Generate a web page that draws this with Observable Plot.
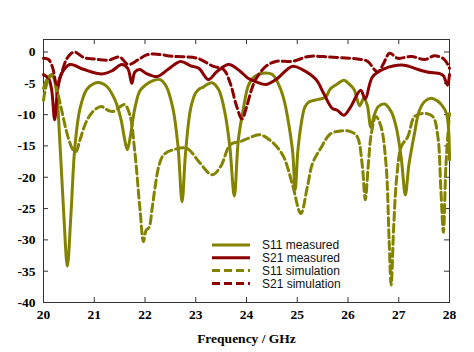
<!DOCTYPE html>
<html><head><meta charset="utf-8">
<script src="https://cdn.jsdelivr.net/npm/d3@7"></script>
<script src="https://cdn.jsdelivr.net/npm/@observablehq/plot@0.6"></script>
<style>body{margin:0;background:#fff}#chart{width:474px;height:352px}</style>
</head><body><div id="chart"></div>
<script>
const xTicks = [20, 21, 22, 23, 24, 25, 26, 27, 28];
const yTicks = [0, -5, -10, -15, -20, -25, -30, -35, -40];
const seriesNames = ["S11 measured", "S21 measured", "S11 simulation", "S21 simulation"];

const s11Measured = [[20,-5.8],[20.08,-4.2],[20.17,-3.6],[20.25,-6],[20.32,-14],[20.4,-26],[20.47,-34.2],[20.54,-26],[20.62,-15],[20.72,-9],[20.85,-6],[21.0,-5.0],[21.12,-4.9],[21.25,-5.5],[21.4,-7.5],[21.52,-10.5],[21.6,-14],[21.65,-15.6],[21.7,-14],[21.8,-9],[21.9,-6.2],[22.02,-5.2],[22.15,-4.6],[22.3,-4.4],[22.42,-5.5],[22.55,-9],[22.65,-15],[22.73,-23.9],[22.8,-16],[22.9,-9],[23.0,-6.5],[23.09,-5.8],[23.15,-5.6],[23.2,-5.3],[23.32,-4.9],[23.45,-6],[23.57,-9.5],[23.67,-15],[23.76,-23],[23.84,-14],[23.95,-8.5],[24.03,-5.5],[24.12,-4.2],[24.31,-3.4],[24.51,-3.6],[24.65,-5.5],[24.75,-8],[24.84,-11.9],[24.91,-16],[24.96,-22],[25.01,-16],[25.07,-11.9],[25.15,-8.8],[25.23,-8.0],[25.4,-7.6],[25.56,-7.2],[25.65,-5.9],[25.79,-5.1],[25.92,-4.5],[26.02,-5.1],[26.12,-6],[26.23,-8.6],[26.31,-7.4],[26.38,-8.5],[26.45,-12],[26.52,-10],[26.6,-8.7],[26.72,-8.3],[26.85,-9.5],[26.95,-12],[27.05,-17],[27.13,-22.8],[27.2,-18],[27.31,-13],[27.4,-9.5],[27.51,-7.9],[27.64,-7.4],[27.76,-7.8],[27.84,-8.4],[27.94,-9.8],[28,-17.2]];

const s21Measured = [[20,-3.6],[20.1,-4.2],[20.16,-6],[20.22,-10.8],[20.28,-6],[20.36,-3.4],[20.52,-2.0],[20.8,-2.8],[21.15,-3.5],[21.35,-3],[21.54,-2.0],[21.66,-2.6],[21.74,-5.0],[21.8,-3.2],[21.9,-2.8],[22.02,-3.4],[22.24,-3.9],[22.45,-2.8],[22.7,-1.5],[22.9,-2.2],[23.06,-2.6],[23.25,-4.4],[23.42,-3.1],[23.65,-2.0],[23.88,-3.1],[24.03,-4.2],[24.2,-4.8],[24.38,-5.2],[24.58,-4.4],[24.9,-2.3],[25.1,-2.8],[25.37,-4.4],[25.52,-6.6],[25.69,-9.0],[25.79,-9.3],[25.92,-10.1],[26.05,-8.8],[26.25,-6.1],[26.34,-7.5],[26.48,-4.0],[26.71,-2.7],[27.1,-2.1],[27.38,-2.8],[27.56,-3.2],[27.82,-3.5],[27.88,-3.8],[27.96,-5.3],[28,-3.6]];

const s11Simulation = [[20,-7.7],[20.05,-5.5],[20.12,-4],[20.18,-3.8],[20.25,-5.5],[20.35,-9],[20.48,-13.5],[20.58,-15.6],[20.64,-15.9],[20.72,-14],[20.85,-11],[21.0,-9.3],[21.14,-8.7],[21.27,-9.3],[21.37,-9.5],[21.5,-8.8],[21.6,-8.4],[21.7,-10],[21.8,-16],[21.9,-25],[21.97,-30.3],[22.02,-28.5],[22.08,-28],[22.14,-25],[22.2,-21.5],[22.28,-18],[22.37,-16.4],[22.56,-15.6],[22.83,-15.4],[23.06,-17.5],[23.32,-19.6],[23.49,-18.3],[23.68,-14.8],[23.88,-14.3],[24.03,-13.8],[24.25,-13.2],[24.45,-14],[24.71,-16.4],[24.9,-21],[25.07,-25.8],[25.2,-21.5],[25.3,-17.8],[25.46,-15.4],[25.65,-13.1],[25.85,-12.6],[26.05,-12.7],[26.18,-13.5],[26.28,-18],[26.34,-23.6],[26.4,-18],[26.46,-13],[26.55,-10.3],[26.65,-11.9],[26.75,-18],[26.81,-30],[26.85,-37.2],[26.9,-28],[26.96,-20],[27.05,-15.1],[27.18,-13.5],[27.31,-10.3],[27.48,-9.8],[27.67,-10.3],[27.77,-13.5],[27.83,-22],[27.88,-28.8],[27.93,-18],[28,-9.8]];

const s21Simulation = [[20,-1.0],[20.1,-1.2],[20.18,-2.5],[20.26,-5.2],[20.35,-3.5],[20.45,-1.2],[20.55,-0.2],[20.62,0.0],[20.8,-0.9],[21.0,-1.1],[21.28,-1.3],[21.5,-0.8],[21.67,-2.0],[21.87,-1.2],[22.02,-0.5],[22.17,-0.3],[22.56,-0.7],[23.03,-1.0],[23.35,-2.3],[23.55,-2.8],[23.68,-5],[23.8,-8.5],[23.91,-10.7],[24.0,-8.8],[24.1,-6],[24.18,-4.4],[24.38,-2.3],[24.58,-1.5],[24.9,-1.5],[25.23,-0.7],[25.63,-0.8],[26.04,-1.0],[26.19,-1.1],[26.39,-1.5],[26.52,-2.8],[26.59,-3.2],[26.69,-2.0],[26.82,-0.2],[26.98,-1.0],[27.25,-0.7],[27.51,-1.2],[27.71,-0.6],[27.9,-1.2],[28,-2.6]];

const OLIVE = "#838300", DARKRED = "#8b0000";
const series = [
  {name: seriesNames[0], data: s11Measured, color: OLIVE, dash: null},
  {name: seriesNames[1], data: s21Measured, color: DARKRED, dash: null},
  {name: seriesNames[2], data: s11Simulation, color: OLIVE, dash: "8,4"},
  {name: seriesNames[3], data: s21Simulation, color: DARKRED, dash: "8,4"}
];

const W = 474, H = 352, ML = 43, MR = 25, MT = 39, MB = 50;
const frameH = H - MT - MB, frameW = W - ML - MR, TICK = 5;
const SERIF = "'Liberation Serif', 'Times New Roman', serif";

function legendMark() {
  return () => {
    const g = d3.create("svg:g").attr("text-anchor", "start");
    series.forEach((s, i) => {
      const y = 245 + i * 12.8;
      g.append("line").attr("x1", 212).attr("x2", 250).attr("y1", y).attr("y2", y)
        .attr("stroke", s.color).attr("stroke-width", 3)
        .attr("stroke-dasharray", s.dash);
      g.append("text").attr("x", 262).attr("y", y).attr("dy", "0.36em")
        .attr("text-anchor", "start")
        .attr("font-family", "Arial, 'Liberation Sans', sans-serif")
        .attr("font-size", 12).attr("font-weight", "normal").attr("fill", "#111")
        .text(s.name);
    });
    return g.node();
  };
}

const axisText = {fontFamily: SERIF, fontSize: 13.5, fontWeight: "bold", fill: "#000"};
const marks = [
  Plot.frame({stroke: "#333", strokeWidth: 1}),
  Plot.tickX(xTicks, {x: d => d, insetTop: frameH - TICK, stroke: "#333"}),
  Plot.tickX(xTicks, {x: d => d, insetBottom: frameH - TICK, stroke: "#333"}),
  Plot.tickY(yTicks, {y: d => d, insetRight: frameW - TICK, stroke: "#333"}),
  Plot.tickY(yTicks, {y: d => d, insetLeft: frameW - TICK, stroke: "#333"}),
  Plot.axisX({ticks: xTicks, tickSize: 0, tickPadding: 7, tickFormat: d => String(d),
    label: "Frequency / GHz", labelAnchor: "center", labelArrow: "none", labelOffset: 40, ...axisText}),
  Plot.axisY({ticks: yTicks, tickSize: 0, tickPadding: 8, tickFormat: d => String(d), label: null, ...axisText})
];
series.forEach(s => {
  marks.push(Plot.line(s.data, {x: d => d[0], y: d => d[1], stroke: s.color, strokeWidth: 3,
    strokeDasharray: s.dash || undefined, curve: "catmull-rom"}));
});
marks.push(legendMark());

const chart = Plot.plot({
  width: W, height: H, marginLeft: ML, marginRight: MR, marginTop: MT, marginBottom: MB,
  x: {domain: [20, 28]},
  y: {domain: [-40, 2]},
  style: {fontFamily: SERIF, fontSize: "13.5px", fontWeight: "bold", color: "#000", background: "#fff"},
  marks
});
document.getElementById("chart").appendChild(chart);
</script>
</body></html>
